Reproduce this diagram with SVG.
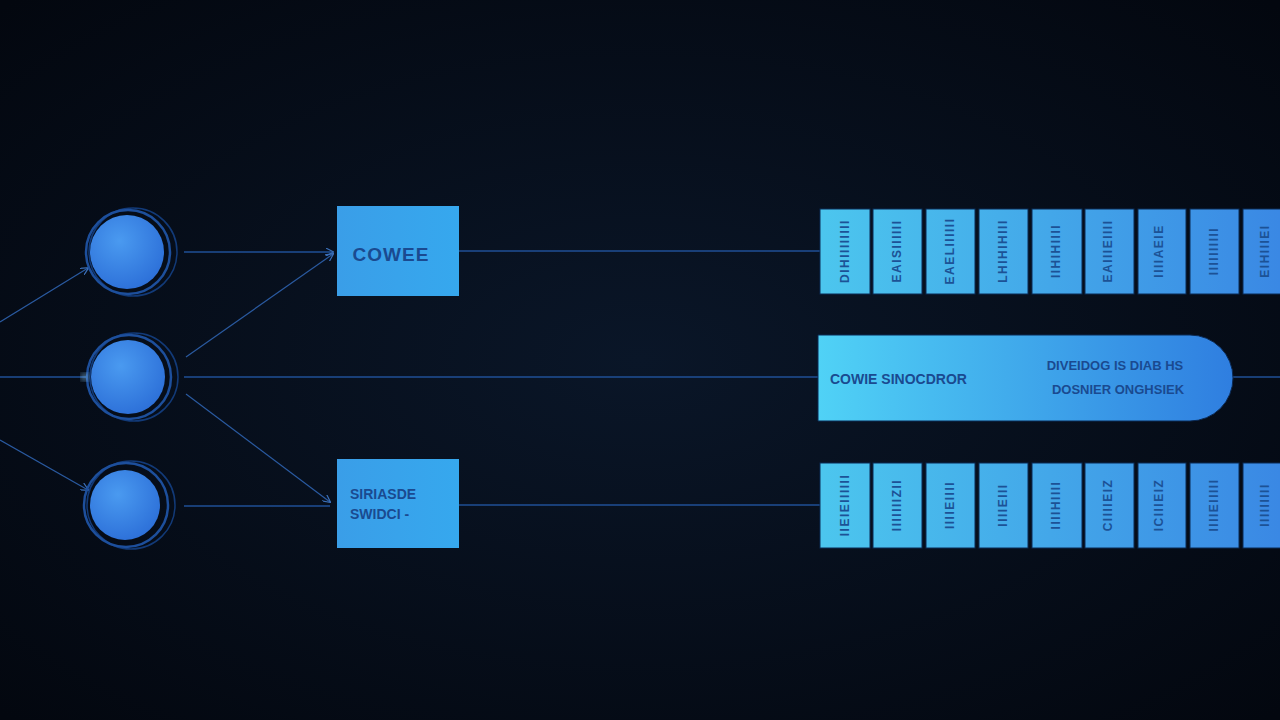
<svg xmlns="http://www.w3.org/2000/svg" width="1280" height="720" viewBox="0 0 1280 720">
<defs>
<radialGradient id="bg" cx="50%" cy="50%" r="70%">
<stop offset="0" stop-color="#0a1628"/>
<stop offset="1" stop-color="#03070f"/>
</radialGradient>
<radialGradient id="circ" cx="40%" cy="35%" r="70%">
<stop offset="0" stop-color="#4a9af0"/>
<stop offset="1" stop-color="#2c6fd8"/>
</radialGradient>
<linearGradient id="box" x1="0" y1="0" x2="1" y2="0">
<stop offset="0" stop-color="#3a9ee8"/>
<stop offset="1" stop-color="#36a8ee"/>
</linearGradient>
<linearGradient id="cells" gradientUnits="userSpaceOnUse" x1="820" y1="0" x2="1280" y2="0">
<stop offset="0" stop-color="#4cc6ee"/>
<stop offset="1" stop-color="#3a88e4"/>
</linearGradient>
<linearGradient id="pill" x1="0" y1="0" x2="1" y2="0">
<stop offset="0" stop-color="#50d2f6"/>
<stop offset="1" stop-color="#2f7ee0"/>
</linearGradient>
<marker id="arr" viewBox="0 0 10 10" refX="9" refY="5" markerWidth="8" markerHeight="8" orient="auto" markerUnits="userSpaceOnUse">
<path d="M0,0 L10,5 L0,10" fill="none" stroke="#3b6fb8" stroke-width="1.5"/>
</marker>
<filter id="glow" x="-30%" y="-30%" width="160%" height="160%">
<feGaussianBlur stdDeviation="3"/>
</filter>
</defs>
<style>
.ln{stroke:#1f4f96;stroke-width:1.6;fill:none}
.dg{stroke:#2a5aa0;stroke-width:1.2;fill:none}
.ring{fill:none;stroke:#1d4f9c;stroke-width:2.5}
.ring2{fill:none;stroke:#123a78;stroke-width:1.5}
.cell{fill:url(#cells);stroke:#0b2a55;stroke-width:1}
.lbl{font-family:"Liberation Sans",Arial,sans-serif;font-weight:bold;fill:#1a4a90}
.vt{font-family:"Liberation Sans",Arial,sans-serif;font-weight:bold;font-size:12px;fill:#1c5296;letter-spacing:1.5px}
</style>
<rect width="1280" height="720" fill="url(#bg)"/>

<g id="connectors">
<line class="ln" x1="184" y1="252" x2="333" y2="252" marker-end="url(#arr)"/>
<line class="ln" x1="459" y1="251" x2="820" y2="251"/>
<line class="ln" x1="0" y1="377" x2="86" y2="377"/>
<line class="ln" x1="184" y1="377" x2="818" y2="377"/>
<line class="ln" x1="1233" y1="377" x2="1280" y2="377"/>
<line class="ln" x1="184" y1="506" x2="330" y2="506"/>
<line class="ln" x1="459" y1="505" x2="820" y2="505"/>
<line class="dg" x1="0" y1="322" x2="88" y2="268" marker-end="url(#arr)"/>
<line class="dg" x1="186" y1="357" x2="333" y2="254" marker-end="url(#arr)"/>
<line class="dg" x1="186" y1="394" x2="330" y2="502" marker-end="url(#arr)"/>
<line class="dg" x1="0" y1="440" x2="88" y2="490" marker-end="url(#arr)"/>
</g>

<g id="circle1">
<circle cx="133" cy="252" r="44" class="ring2"/>
<circle cx="128" cy="252" r="42" class="ring"/>
<circle cx="127" cy="252" r="37" fill="url(#circ)"/>
</g>
<g id="circle2">
<circle cx="134" cy="377" r="44" class="ring2"/>
<circle cx="129" cy="377" r="42" class="ring"/>
<circle cx="128" cy="377" r="37" fill="url(#circ)"/>
<circle cx="85" cy="377" r="3" fill="#8fd0ff" filter="url(#glow)"/>
</g>
<g id="circle3">
<circle cx="131" cy="505" r="44" class="ring2"/>
<circle cx="126" cy="505" r="42" class="ring"/>
<circle cx="125" cy="505" r="35" fill="url(#circ)"/>
</g>

<g id="box1">
<rect x="337" y="206" width="122" height="90" fill="url(#box)"/>
<text class="lbl" x="391" y="261" font-size="19" letter-spacing="1" text-anchor="middle">COWEE</text>
</g>
<g id="box2">
<rect x="337" y="459" width="122" height="89" fill="url(#box)"/>
<text class="lbl" x="350" y="499" font-size="14">SIRIASDE</text>
<text class="lbl" x="350" y="519" font-size="14">SWIDCI -</text>
</g>

<g id="cellsTop">
<rect class="cell" x="820" y="209" width="50" height="85"/>
<rect class="cell" x="873" y="209" width="49" height="85"/>
<rect class="cell" x="926" y="209" width="49" height="85"/>
<rect class="cell" x="979" y="209" width="49" height="85"/>
<rect class="cell" x="1032" y="209" width="50" height="85"/>
<rect class="cell" x="1085" y="209" width="49" height="85"/>
<rect class="cell" x="1138" y="209" width="48" height="85"/>
<rect class="cell" x="1190" y="209" width="49" height="85"/>
<rect class="cell" x="1243" y="209" width="40" height="85"/>
<g class="vt" text-anchor="middle">
<text transform="translate(849,251) rotate(-90)">DIHIIIIIIII</text>
<text transform="translate(901,251) rotate(-90)">EAISIIIIII</text>
<text transform="translate(954,251) rotate(-90)">EAELIIIIII</text>
<text transform="translate(1007,251) rotate(-90)">LHIHIHIII</text>
<text transform="translate(1060,251) rotate(-90)">IIHIHIIII</text>
<text transform="translate(1112,251) rotate(-90)">EAIIIEIIII</text>
<text transform="translate(1163,251) rotate(-90)">IIIIAEIE</text>
<text transform="translate(1218,251) rotate(-90)">IIIIIIIIII</text>
<text transform="translate(1269,251) rotate(-90)">EIHIIIEI</text>
</g>
</g>

<g id="pillNode">
<path d="M818,335 H1190 A43,43 0 0 1 1190,421 H818 Z" fill="url(#pill)" stroke="#0b2a55" stroke-width="1"/>
<text class="lbl" x="830" y="384" font-size="14">COWIE SINOCDROR</text>
<text class="lbl" x="1115" y="370" font-size="13" text-anchor="middle">DIVEIDOG IS DIAB HS</text>
<text class="lbl" x="1118" y="394" font-size="13" text-anchor="middle">DOSNIER ONGHSIEK</text>
</g>

<g id="cellsBottom">
<rect class="cell" x="820" y="463" width="50" height="85"/>
<rect class="cell" x="873" y="463" width="49" height="85"/>
<rect class="cell" x="926" y="463" width="49" height="85"/>
<rect class="cell" x="979" y="463" width="49" height="85"/>
<rect class="cell" x="1032" y="463" width="50" height="85"/>
<rect class="cell" x="1085" y="463" width="49" height="85"/>
<rect class="cell" x="1138" y="463" width="48" height="85"/>
<rect class="cell" x="1190" y="463" width="49" height="85"/>
<rect class="cell" x="1243" y="463" width="40" height="85"/>
<g class="vt" text-anchor="middle">
<text transform="translate(849,505) rotate(-90)">IIEIEIIIIII</text>
<text transform="translate(901,505) rotate(-90)">IIIIIIIZII</text>
<text transform="translate(954,505) rotate(-90)">IIIIEIIII</text>
<text transform="translate(1007,505) rotate(-90)">IIIIEIII</text>
<text transform="translate(1060,505) rotate(-90)">IIIIHIIII</text>
<text transform="translate(1112,505) rotate(-90)">CIIIIEIZ</text>
<text transform="translate(1163,505) rotate(-90)">ICIIIEIZ</text>
<text transform="translate(1218,505) rotate(-90)">IIIIEIIIII</text>
<text transform="translate(1269,505) rotate(-90)">IIIIIIIII</text>
</g>
</g>
</svg>
